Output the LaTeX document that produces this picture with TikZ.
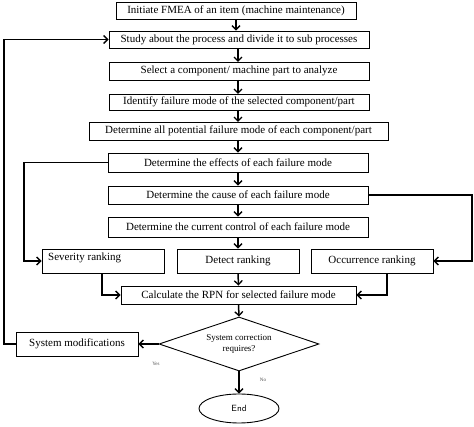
\documentclass[tikz,border=0pt]{standalone}
\usepackage{fontspec}
\setmainfont{Liberation Serif}
\usetikzlibrary{arrows.meta,shapes.geometric}
\begin{document}
\begin{tikzpicture}[x=1pt,y=-1pt,
  box/.style={draw,line width=0.9pt,inner sep=0pt,font=\fontsize{11}{12}\selectfont},
  conn/.style={line width=1.5pt,-{Straight Barb[length=4pt,width=8pt,line width=1.3pt]}},
  lbl/.style={font=\fontsize{5}{6}\selectfont,text=black!70}]
\useasboundingbox (0,0) rectangle (474,427);
\node[box,minimum width=240pt,minimum height=17pt] (b1) at (236,10.5) {Initiate FMEA of an item (machine maintenance)};
\node[box,minimum width=260pt,minimum height=17pt] (b2) at (239,39.5) {Study about the process and divide it to sub processes};
\node[box,minimum width=260pt,minimum height=18pt] (b3) at (239,71) {Select a component/ machine part to analyze};
\node[box,minimum width=260pt,minimum height=16pt] (b4) at (239,102) {Identify failure mode of the selected component/part};
\node[box,minimum width=299pt,minimum height=18pt] (b5) at (238.5,131) {Determine all potential failure mode of each component/part};
\node[box,minimum width=260pt,minimum height=19pt] (b6) at (238,162.5) {Determine the effects of each failure mode};
\node[box,minimum width=260pt,minimum height=18pt] (b7) at (238,195) {Determine the cause of each failure mode};
\node[box,minimum width=260pt,minimum height=20pt] (b8) at (238,227) {Determine the current control of each failure mode};
\node[box,minimum width=122pt,minimum height=24pt] (sev) at (103,261) {};
\node[font=\fontsize{11}{12}\selectfont,anchor=west,inner sep=0pt] (sevt) at (48,258) {Severity ranking};
\node[box,minimum width=122pt,minimum height=24pt] (det) at (238,261) {\raisebox{2pt}{Detect ranking}};
\node[box,minimum width=122pt,minimum height=24pt] (occ) at (372,261) {\raisebox{2pt}{Occurrence ranking}};
\node[box,minimum width=235pt,minimum height=18pt] (rpn) at (238.5,295) {Calculate the RPN for selected failure mode};
\node[draw,line width=0.9pt,diamond,aspect=2.96,minimum width=160pt,minimum height=54pt,inner sep=0pt,align=center,font=\fontsize{9}{10.5}\selectfont] (dia) at (239,344) {System correction\\requires?};
\node[box,minimum width=122pt,minimum height=24pt] (sys) at (77,344) {\raisebox{1pt}{System modifications}};
\node[draw,line width=0.9pt,ellipse,minimum width=80pt,minimum height=29pt,inner sep=0pt,font=\fontsize{9}{11}\sffamily] (end) at (239,408.5) {End};
\node[lbl] (yes) at (156,364) {Yes};
\node[lbl] (no) at (263,380) {No};
\coordinate (lt) at (4,39.5);
\coordinate (lb) at (4,344);
\coordinate (l6) at (24,162.5);
\coordinate (l6b) at (24,261);
\coordinate (r7) at (472,195);
\coordinate (r7b) at (472,261);
\draw[conn] (b1.south) -- (b1.south |- b2.north);
\draw[conn] (b2.south -| 238,0) -- (238,62);
\draw[conn] (238,80) -- (238,94);
\draw[conn] (238,110) -- (238,122);
\draw[conn] (238,140) -- (b6.north);
\draw[conn] (b6.south) -- (b7.north);
\draw[conn] (b7.south) -- (b8.north);
\draw[conn] (b8.south) -- (det.north);
\draw[conn] (det.south) -- (rpn.north);
\draw[conn] (rpn.south) -- (dia.north);
\draw[conn] (dia.south) -- (end.north);
\draw[conn] (dia.west) -- (sys.east);
\draw[conn] (sys.west) -- (lb) -- (lt) -- (b2.west);
\draw[conn] (b6.west) -- (l6) -- (l6b) -- (sev.west);
\draw[conn] (b7.east) -- (r7) -- (r7b) -- (occ.east);
\draw[conn] ([xshift=-1pt]sev.south) |- (rpn.west);
\draw[conn] ([xshift=15pt]occ.south) |- (rpn.east);
\end{tikzpicture}
\end{document}
